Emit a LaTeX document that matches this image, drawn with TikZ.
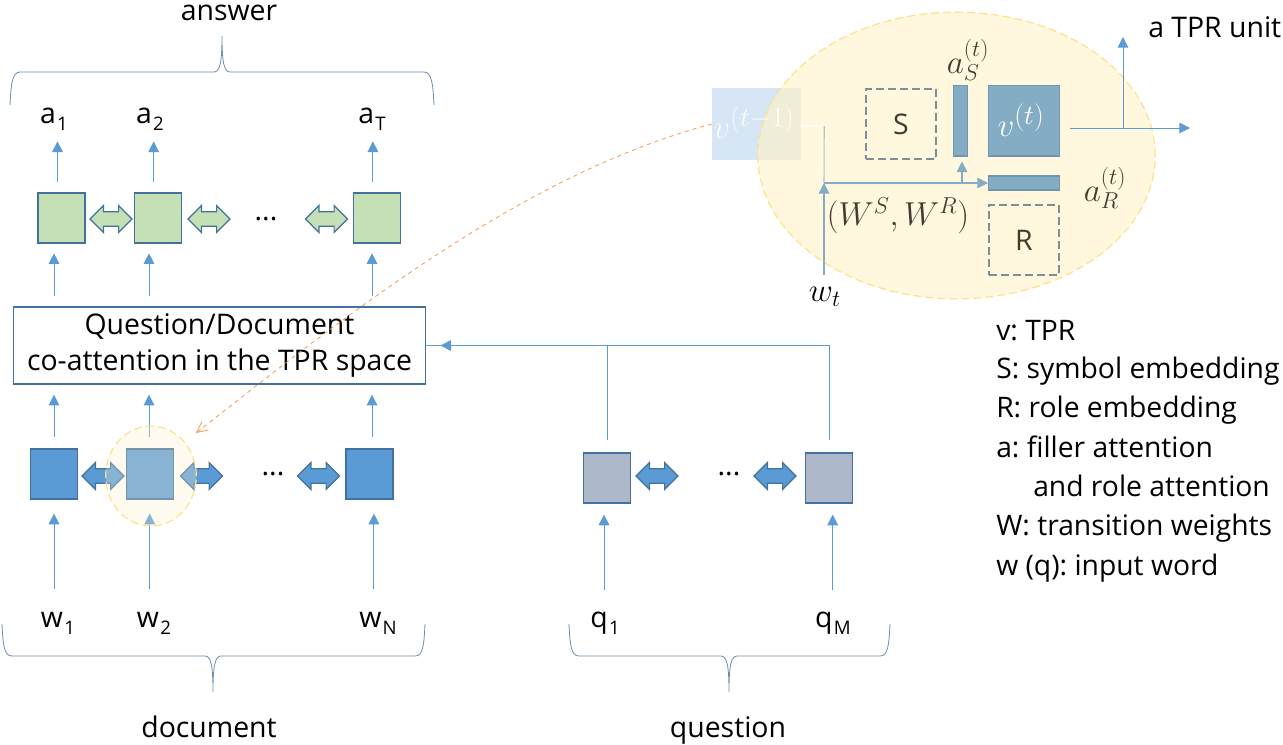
\documentclass[tikz,border=0pt]{standalone}
\usepackage{fontspec}
\setmainfont{Open Sans}
\frenchspacing
\usetikzlibrary{positioning}
\usetikzlibrary{arrows.meta}
\usetikzlibrary{calc}
\usetikzlibrary{shapes.geometric}
\usetikzlibrary{shapes.arrows}

\definecolor{linkblue}{HTML}{5B9BD5}
\definecolor{edgeblue}{HTML}{41719C}
\definecolor{tprblue}{HTML}{84ACC4}
\definecolor{tpredge}{HTML}{6F96AE}
\definecolor{greenfill}{HTML}{C5E0B4}
\definecolor{greyfill}{HTML}{ADB9CA}
\definecolor{softyellow}{HTML}{FFF2CC}
\definecolor{dashyellow}{HTML}{FFE08A}
\definecolor{dashgrey}{HTML}{7D8F96}
\definecolor{inktext}{HTML}{403C30}

\newcommand{\lowidx}[1]{\kern1pt\raisebox{-.28em}{\fontsize{14}{16}\selectfont #1}}

\begin{document}
\begin{tikzpicture}[
    x=0.75pt, y=-0.75pt,
    cell/.style={rectangle, draw=edgeblue, line width=0.9pt, minimum width=35.25pt, minimum height=37.5pt, inner sep=0pt},
    greencell/.style={cell, fill=greenfill},
    bluecell/.style={cell, fill=linkblue},
    greycell/.style={cell, fill=greyfill},
    dbl/.style={double arrow, draw=edgeblue, line width=0.9pt, minimum height=31.5pt, inner sep=0pt, double arrow head extend=4.6pt, execute at begin node=\rule{0pt}{10pt}},
    greendbl/.style={dbl, fill=greenfill},
    bluedbl/.style={dbl, fill=linkblue},
    link/.style={draw=linkblue, line width=0.7pt, -{Triangle[length=8pt, width=8pt, fill=linkblue]}},
    plainlink/.style={draw=linkblue, line width=0.7pt},
    tprlink/.style={draw=tprblue, line width=0.8pt, -{Triangle[length=8pt, width=8pt, fill=tprblue]}},
    brace/.style={draw=edgeblue!80!white, line width=0.6pt},
    txt/.style={anchor=base, inner sep=0pt, font=\fontsize{21.3}{26}\selectfont},
    legend/.style={anchor=base west, inner sep=0pt, font=\fontsize{21.2}{26}\selectfont},
    mathtxt/.style={inner sep=0pt, text=inktext, font=\fontsize{26}{31}\selectfont},
    vtxt/.style={inner sep=0pt, text=white, font=\fontsize{28}{33}\selectfont},
    tprbox/.style={rectangle, draw=tpredge, line width=1pt, fill=tprblue, inner sep=0pt},
    dashbox/.style={rectangle, draw=dashgrey, dash pattern=on 6pt off 3pt, line width=0.9pt, minimum width=52.5pt, inner sep=0pt, text=inktext, font=\fontsize{21.3}{26}\selectfont},
    dots/.style={inner sep=0pt, font=\fontsize{21.3}{26}\selectfont},
]
    \useasboundingbox (0,0) rectangle (1283,744);

    % top row
    \node[greencell] (G1) at (61.5,218) {};
    \node[greencell] (G2) [right=36pt of G1] {};
    \node[greencell] (G3) [right=128.25pt of G2] {};
    \node[greendbl] (GA1) at (111,219) {};
    \node[greendbl] (GA2) at (209,219) {};
    \node[greendbl] (GA3) at (326.5,219) {};
    \node[dots] (GD) at (266,219) {...};

    \node[txt] (A1) at (54,123) {a\lowidx{1}};
    \node[txt] (A2) at (150,123) {a\lowidx{2}};
    \node[txt] (AT) at (372,123) {a\lowidx{T}};

    % co-attention box
    \node[rectangle, draw=edgeblue, line width=1.3pt, minimum width=309pt, minimum height=57.5pt, align=center, inner sep=0pt, font=\fontsize{21.3}{27}\selectfont] (CO) at (219.5,345.5) {Question/Document\\co-attention in the TPR space};

    % document row
    \node[bluecell] (D1) at (54,474) {};
    \node[bluecell] (D2) [right=36pt of D1] {};
    \node[bluecell] (D3) [right=128.25pt of D2] {};
    \node[bluedbl] (DA1) at (103,476) {};
    \node[bluedbl] (DA2) at (201.5,476) {};
    \node[bluedbl] (DA3) at (318.5,476) {};
    \node[dots] (DD) at (273,474) {...};

    \node[txt] (W1) at (58,627) {w\lowidx{1}};
    \node[txt] (W2) at (154,627) {w\lowidx{2}};
    \node[txt] (WN) at (378,627) {w\lowidx{N}};

    % question row
    \node[greycell] (Q1) at (607,478) {};
    \node[greycell] (Q2) [right=130.5pt of Q1] {};
    \node[bluedbl] (QA1) at (657,476) {};
    \node[bluedbl] (QA2) at (775,476) {};
    \node[dots] (QD) at (729,474) {...};

    \node[txt] (Q1L) at (605,627) {q\lowidx{1}};
    \node[txt] (QML) at (833,627) {q\lowidx{M}};

    % vertical links
    \draw[link] ($(G1.north)+(-4,-10)$) -- ($(G1.north)+(-4,-51)$);
    \draw[link] ($(G2.north)+(-4,-10)$) -- ($(G2.north)+(-4,-51)$);
    \draw[link] ($(G3.north)+(-4,-10)$) -- ($(G3.north)+(-4,-51)$);

    \draw[link] ($(CO.north)+(-165.5,-10)$) -- ($(CO.north)+(-165.5,-53)$);
    \draw[link] ($(CO.north)+(-70.5,-10)$) -- ($(CO.north)+(-70.5,-53)$);
    \draw[link] ($(CO.north)+(152.5,-10)$) -- ($(CO.north)+(152.5,-53)$);

    \draw[link] ($(CO.south)+(-165.5,52)$) -- ($(CO.south)+(-165.5,10)$);
    \draw[link] ($(CO.south)+(-70.5,52)$) -- ($(CO.south)+(-70.5,10)$);
    \draw[link] ($(CO.south)+(152.5,52)$) -- ($(CO.south)+(152.5,10)$);

    \draw[link] ($(D1.south)+(0,89)$) -- ($(D1.south)+(0,14)$);
    \draw[link] ($(D2.south)+(-0.5,89)$) -- ($(D2.south)+(-0.5,14)$);
    \draw[link] ($(D3.south)+(4.5,89)$) -- ($(D3.south)+(4.5,14)$);

    \draw[link] ($(Q1.south)+(-3,86)$) -- ($(Q1.south)+(-3,11)$);
    \draw[link] ($(Q2.south)+(3.5,86)$) -- ($(Q2.south)+(3.5,11)$);

    \draw[plainlink] ($(Q2.north)+(0,-12)$) |- (CO.east) coordinate[pos=0.5] (QT);
    \draw[link] (QT) -- ($(CO.east)+(14,0)$);
    \draw[plainlink] ($(Q1.north)+(0,-12)$) -- (Q1.north |- CO.east);

    % braces
    \draw[brace] (10,105) .. controls (11,85) and (12,72) .. (20,72) -- (214,72) .. controls (220,72) and (222,62) .. (222,36) .. controls (222,62) and (224,72) .. (230,72) -- (424,72) .. controls (432,72) and (433,85) .. (434,105);
    \draw[brace] (2,624) .. controls (3,645) and (4,656) .. (12,656) -- (205,656) .. controls (211,656) and (213,666) .. (213,692) .. controls (213,666) and (215,656) .. (221,656) -- (415,656) .. controls (423,656) and (424,645) .. (425,624);
    \draw[brace] (569,624) .. controls (570,645) and (571,656) .. (579,656) -- (721,656) .. controls (727,656) and (729,666) .. (729,692) .. controls (729,666) and (731,656) .. (737,656) -- (880,656) .. controls (888,656) and (889,645) .. (890,624);

    \node[txt] (ANS) at (229,20) {answer};
    \node[txt] (DOC) at (209,737) {document};
    \node[txt] (QUE) at (728,737) {question};

    % TPR unit
    \node[rectangle, draw=linkblue!25!white, fill=linkblue!25!white, minimum width=66pt, minimum height=53.5pt, inner sep=0pt] (VP) at (756,124) {};
    \node[ellipse, draw=dashyellow, dash pattern=on 6pt off 3pt, line width=0.9pt, fill=softyellow, fill opacity=0.65, minimum width=298pt, minimum height=215pt, inner sep=0pt] (TPR) at (956.5,155.5) {};
    \node[vtxt, opacity=0.85] (VPT) at (754,122) {$v^{(t-1)}$};

    \node[dashbox, minimum height=52.5pt] (S) at (901,124) {S};
    \node[tprbox, minimum width=10.5pt, minimum height=53pt] (AS) at (960.5,120.5) {};
    \node[tprbox, minimum width=53pt, minimum height=53pt] (V) at (1024,120.5) {};
    \node[vtxt] (VT) at (1021,120) {$v^{(t)}$};
    \node[tprbox, minimum width=53pt, minimum height=10.5pt] (AR) at (1024,183) {};
    \node[dashbox, minimum height=52.5pt] (R) at (1024,240) {R};

    \node[mathtxt] (AST) at (968,60) {$a_S^{(t)}$};
    \node[mathtxt] (ART) at (1105,188) {$a_R^{(t)}$};
    \node[mathtxt, font=\fontsize{24.5}{29}\selectfont] (WSR) at (898,216) {$(W^S,W^R)$};
    \node[mathtxt, text=black] (WT) at (825,297) {$w_t$};

    \coordinate (JN) at (824,183);
    \coordinate (VC) at ($(VP.east)+(24,2)$);
    \draw[draw=white!75!softyellow, line width=0.9pt] ($(VP.east)+(0,2)$) -- (VC);
    \draw[draw=tprblue!70!white, line width=0.8pt] (VC) -- (JN);
    \draw[tprlink] (824,275) -- (JN);
    \draw[tprlink] (JN) -- (AR.west);
    \draw[tprlink] (962,183) -- ($(AS.south)+(1.5,5)$);
    \draw[link] (1070,128) -- (1190,128);
    \draw[link] (1123,128) -- (1123,37);

    \node[txt, anchor=base west] (TU) at (1148,37) {a TPR unit};

    % legend
    \node[legend] (L1) at (996,340) {v: TPR};
    \node[legend] (L2) at (996,378) {S: symbol embedding};
    \node[legend] (L3) at (996,417) {R: role embedding};
    \node[legend] (L4) at (996,457) {a: filler attention};
    \node[legend] (L5) at (1033,496) {and role attention};
    \node[legend] (L6) at (996,535) {W: transition weights};
    \node[legend] (L7) at (996,575) {w (q): input word};

    % highlight on the second document cell
    \node[ellipse, draw=dashyellow, dash pattern=on 6pt off 3pt, line width=0.9pt, fill=softyellow, fill opacity=0.28, minimum width=68pt, minimum height=75pt, inner sep=0pt] (FOC) at (151,476) {};
    \coordinate (FT) at (196,433);
    \draw[draw=orange!80!red!70, dashed, line width=0.6pt, -{Straight Barb[length=8pt, width=8pt]}] (VP.west) .. controls (520,175) and (340,320) .. (FT);
\end{tikzpicture}
\end{document}
